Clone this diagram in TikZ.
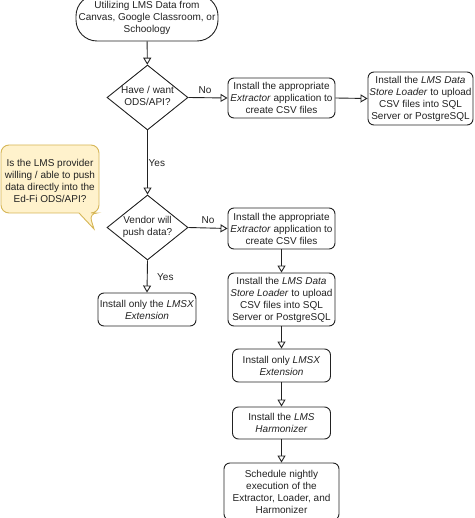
\documentclass[tikz,border=0pt]{standalone}
\usepackage{fontspec}
\setmainfont{Liberation Sans}
\usetikzlibrary{shapes.geometric,arrows.meta}
\definecolor{calloutfill}{HTML}{FFF2CC}
\definecolor{calloutdraw}{HTML}{D6B656}
\definecolor{linec}{HTML}{222222}
\begin{document}
\begin{tikzpicture}[x=1pt,y=1pt,
  every node/.style={font=\fontsize{10}{12}\selectfont, text=linec},
  box/.style={draw=linec, line width=0.9pt, rounded corners=6pt, align=center, inner sep=0pt},
  terminal/.style={draw=linec, line width=0.9pt, rounded corners=21pt, align=center, inner sep=0pt, minimum width=142pt, minimum height=46pt},
  diam/.style={draw=linec, line width=0.9pt, diamond, inner sep=0pt, minimum width=81pt, minimum height=65pt},
  flow/.style={draw=linec, line width=0.9pt, -{Triangle[open, length=7pt, width=8pt]}},
  lbl/.style={inner sep=0pt},
  callout/.style={draw=calloutdraw, fill=calloutfill, line width=0.9pt}
]
\useasboundingbox (0,0) rectangle (474,-518);

% callout
\draw[callout] (94,-229) -- (79,-213) [rounded corners=8pt] -- (1,-213) -- (1,-145) -- (99,-145) -- (99,-213) -- (89,-213) [sharp corners] -- cycle;
\node[align=center] (note) at (50,-181) {Is the LMS provider\\willing / able to push\\data directly into the\\Ed-Fi ODS/API?};

% nodes
\node[terminal] (start) at (147,-18) {Utilizing LMS Data from\\Canvas, Google Classroom, or\\Schoology};

\node[diam] (d1) at (147.5,-97.5) {};
\node[align=center] (d1t) at (147.5,-96) {Have / want\\ODS/API?};

\node[box, minimum width=107pt, minimum height=40pt] (a1) at (281.5,-98) {Install the appropriate\\\textit{Extractor} application to\\create CSV files};
\node[box, minimum width=105pt, minimum height=53pt] (a2) at (420.5,-98.5) {Install the \textit{LMS Data}\\\textit{Store Loader} to upload\\CSV files into SQL\\Server or PostgreSQL};

\node[diam] (d2) at (147.5,-227.5) {};
\node[align=center] (d2t) at (147.5,-227) {Vendor will\\push data?};

\node[box, minimum width=107pt, minimum height=41pt] (b1) at (281.5,-228.5) {Install the appropriate\\\textit{Extractor} application to\\create CSV files};
\node[box, minimum width=107pt, minimum height=53pt] (b2) at (281.5,-299.5) {Install the \textit{LMS Data}\\\textit{Store Loader} to upload\\CSV files into SQL\\Server or PostgreSQL};

\node[box, minimum width=98pt, minimum height=33pt] (y) at (147,-309.5) {Install only the \textit{LMSX}\\\textit{Extension}};

\node[box, minimum width=98pt, minimum height=33pt] (c) at (281.5,-365.5) {Install only \textit{LMSX}\\\textit{Extension}};
\node[box, minimum width=98pt, minimum height=32pt] (d) at (281.5,-423) {Install the \textit{LMS}\\\textit{Harmonizer}};
\node[box, minimum width=115pt, minimum height=57pt] (e) at (281.5,-491.5) {Schedule nightly\\execution of the\\Extractor, Loader, and\\Harmonizer};

% connectors
\draw[flow] (start) -- (d1);
\draw[flow] (d1.east) -- (a1.west);
\draw[flow] (a1.east) -- (a2.west);
\draw[flow] (d1.south) -- (d2.north);
\draw[flow] (d2.east) -- (b1.west);
\draw[flow] (d2.south) -- (y.north);
\draw[flow] (b1) -- (b2);
\draw[flow] (b2) -- (c);
\draw[flow] (c) -- (d);
\draw[flow] (d) -- (e);

% labels
\node[lbl] (no1) at (205,-90) {No};
\node[lbl, anchor=west] (yes1) at (148.5,-163) {Yes};
\node[lbl] (no2) at (208,-220) {No};
\node[lbl, anchor=west] (yes2) at (157,-277) {Yes};
\end{tikzpicture}
\end{document}
